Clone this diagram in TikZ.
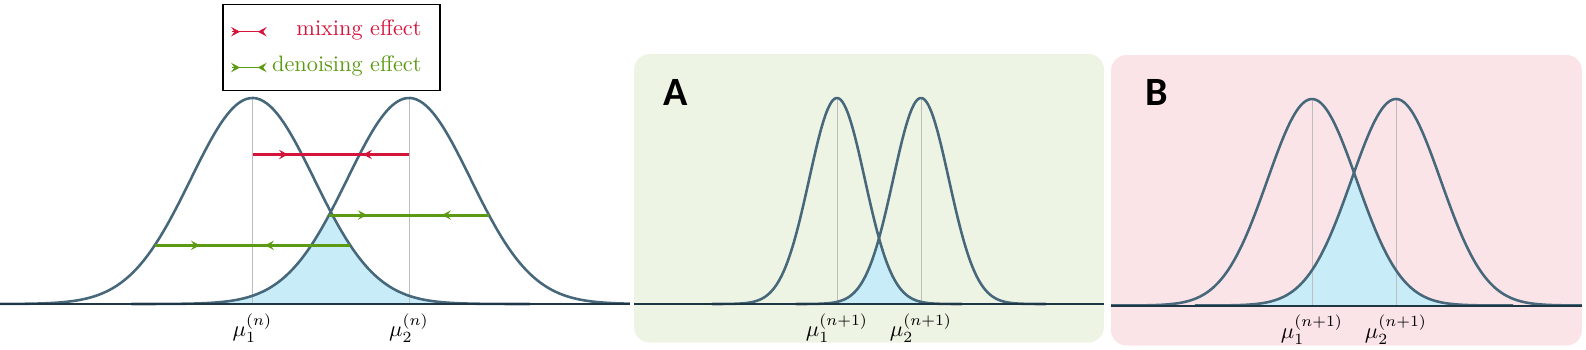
\documentclass[tikz,border=0pt]{standalone}
\usepackage{fontspec}
\newfontfamily\labfont{Carlito}
\usetikzlibrary{arrows.meta,decorations.markings}
\definecolor{curvecol}{HTML}{46687A}
\definecolor{axiscol}{HTML}{1F3645}
\definecolor{fillblue}{HTML}{C8ECF8}
\definecolor{guidecol}{HTML}{BDBDBD}
\definecolor{mixred}{HTML}{D5143C}
\definecolor{dngreen}{HTML}{5C9A14}
\definecolor{panelA}{HTML}{EEF4E4}
\definecolor{panelB}{HTML}{FBE4E8}
\tikzset{
  midtip/.tip={Stealth[length=4pt,width=4.2pt,inset=1.5pt]},
  arrowpair/.style n args={2}{postaction={decorate},
    decoration={markings,
      mark=at position #1 with {\arrow{midtip}},
      mark=at position #2 with {\arrowreversed{midtip}}}},
  curve/.style={draw=curvecol, line width=1.15pt},
  axisline/.style={draw=axiscol, line width=0.9pt},
  guide/.style={draw=guidecol, line width=0.45pt},
  mixline/.style={draw=mixred, color=mixred, line width=1.6pt},
  dnline/.style={draw=dngreen, color=dngreen, line width=1.35pt},
  legline/.style={line width=0.7pt},
  mulabel/.style={anchor=north, inner sep=0pt},
  panellabel/.style={anchor=base west, inner sep=0pt, font=\labfont\bfseries\fontsize{18}{20}\selectfont},
  legtext/.style={anchor=base east, inner sep=0pt},
}
% #1 mu1, #2 mu2, #3 sigma, #4 axis y, #5 amplitude, #6 xmin, #7 xmax
\newcommand\gaussPanel[7]{%
  \pgfmathsetmacro\gpHalf{(#2-#1)/(2*#3)}%
  \pgfmathsetmacro\gpLa{max(-4.5,(#6-#1)/#3)}%
  \pgfmathsetmacro\gpRa{min(4.5,(#7-#1)/#3)}%
  \pgfmathsetmacro\gpLb{max(-4.5,(#6-#2)/#3)}%
  \pgfmathsetmacro\gpRb{min(4.5,(#7-#2)/#3)}%
  \fill[fillblue] plot[domain=\gpLb:-\gpHalf, samples=80] ({#2+#3*\x},{#4-#5*exp(-\x*\x/2)})
     -- plot[domain=\gpHalf:\gpRa, samples=80] ({#1+#3*\x},{#4-#5*exp(-\x*\x/2)}) -- cycle;
  \draw[guide] (#1,#4) -- (#1,#4-#5);
  \draw[guide] (#2,#4) -- (#2,#4-#5);
  \draw[curve] plot[domain=\gpLa:\gpRa, samples=160, smooth] ({#1+#3*\x},{#4-#5*exp(-\x*\x/2)});
  \draw[curve] plot[domain=\gpLb:\gpRb, samples=160, smooth] ({#2+#3*\x},{#4-#5*exp(-\x*\x/2)});
  \draw[axisline] (#6,#4) -- (#7,#4);
}
\begin{document}
\begin{tikzpicture}[x=0.4484pt, y=-0.4484pt]
\useasboundingbox (0,0) rectangle (1586,349);
% panel backgrounds
\fill[panelA, rounded corners=7pt] (634,54) rectangle (1104,342.5);
\fill[panelB, rounded corners=7pt] (1111,55) rectangle (1582,345.5);

% left panel
\gaussPanel{252.5}{409}{61.7}{304}{206}{0}{630}
\coordinate (redL) at (252.5,154.5);
\coordinate (redR) at (409,154.5);
\coordinate (gupL) at (329.1,215);
\coordinate (gupR) at (489,215);
\coordinate (gloL) at (154.8,245.3);
\coordinate (gloR) at (350.2,245.3);
\draw[mixline, arrowpair={0.227}{0.706}] (redL) -- (redR);
\draw[dnline, arrowpair={0.237}{0.706}] (gupL) -- (gupR);
\draw[dnline, arrowpair={0.231}{0.564}] (gloL) -- (gloR);
\node[mulabel] (l1) at (252.5,313) {$\mu_1^{(n)}$};
\node[mulabel] (l2) at (409,313) {$\mu_2^{(n)}$};

% legend
\node[draw=black, line width=0.6pt, minimum width=97.3pt, minimum height=38.7pt, inner sep=0pt] (legend) at (331.5,47.5) {};
\coordinate (lrA) at (232,31.7);
\coordinate (lrB) at (263,31.7);
\coordinate (lgA) at (232,67.5);
\coordinate (lgB) at (263,67.5);
\draw[mixline, legline, arrowpair={0.26}{0.83}] (lrA) -- (lrB);
\draw[dnline, legline, arrowpair={0.26}{0.83}] (lgA) -- (lgB);
\node[legtext, text=mixred] (mixtxt) at (422,35) {mixing effect};
\node[legtext, text=dngreen] (dentxt) at (422,71) {denoising effect};

% panel A
\gaussPanel{837}{921}{27.8}{304}{206}{634}{1104}
\node[panellabel] (labA) at (663,105) {A};
\node[mulabel] (a1) at (837,313) {$\mu_1^{(n+1)}$};
\node[mulabel] (a2) at (921,313) {$\mu_2^{(n+1)}$};

% panel B
\gaussPanel{1312}{1396}{44.7}{305.5}{206.5}{1111}{1582}
\node[panellabel] (labB) at (1145,105) {B};
\node[mulabel] (b1) at (1312,314.5) {$\mu_1^{(n+1)}$};
\node[mulabel] (b2) at (1396,314.5) {$\mu_2^{(n+1)}$};
\end{tikzpicture}
\end{document}
